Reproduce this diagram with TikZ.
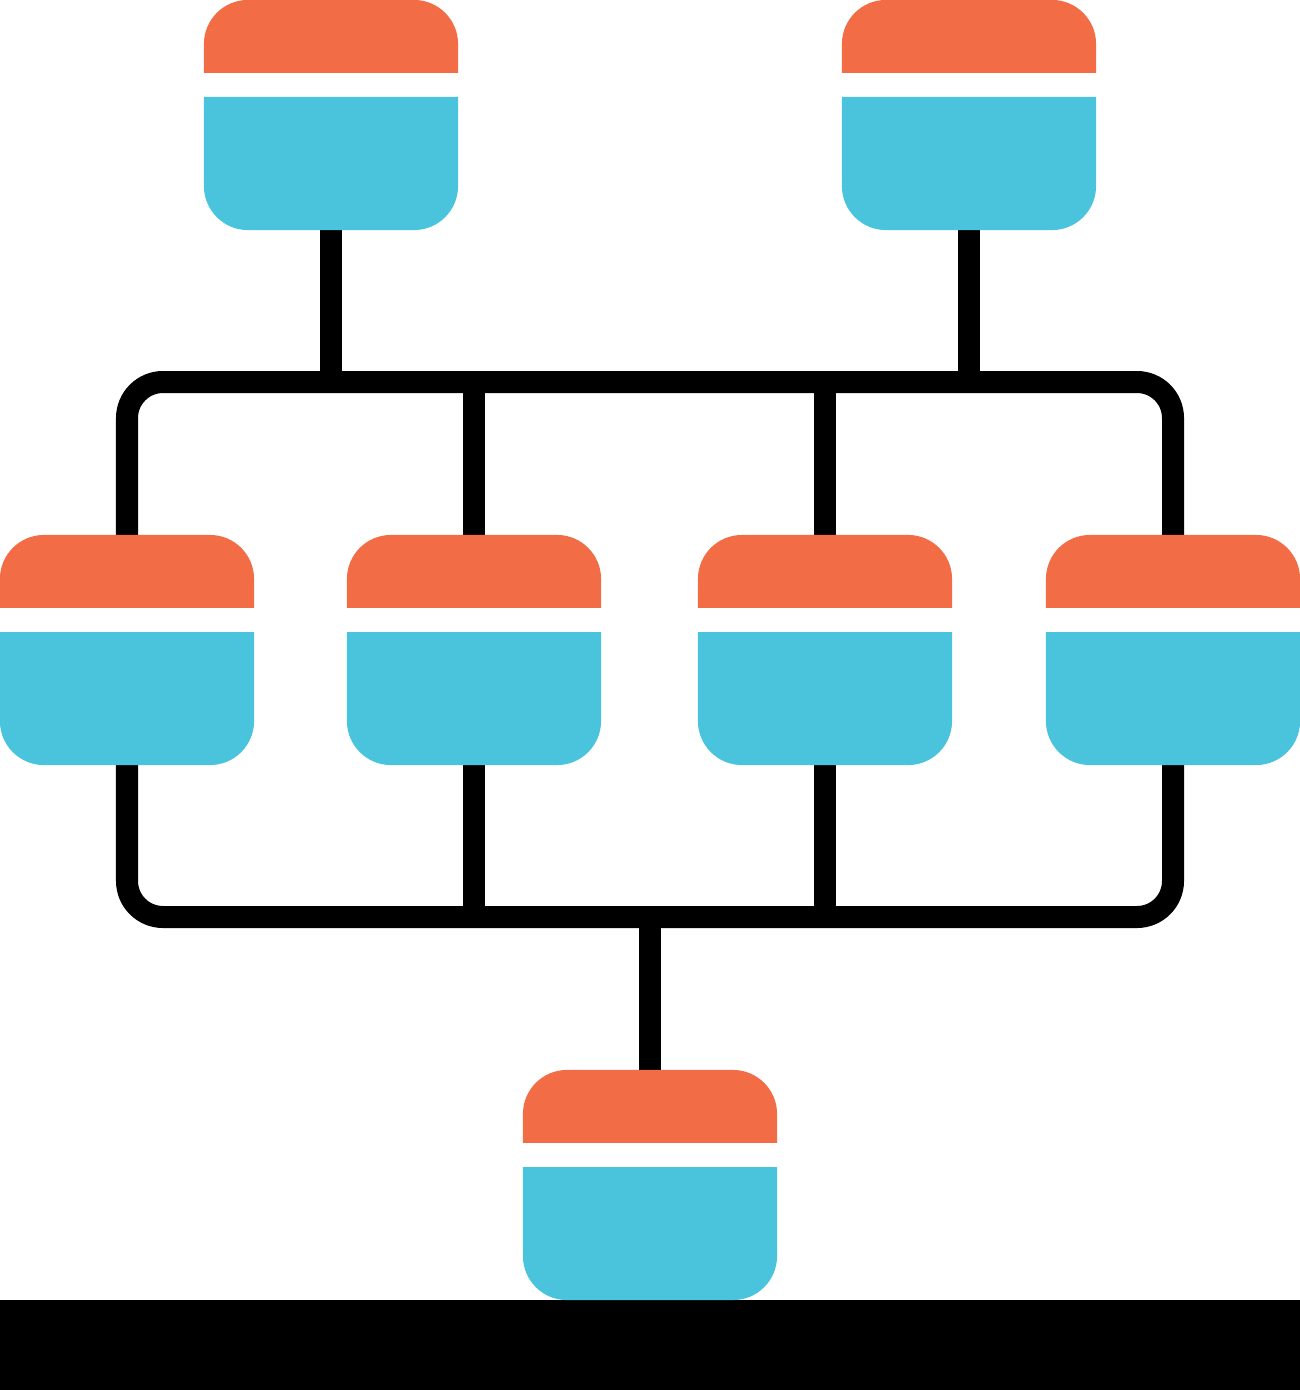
\documentclass[tikz,border=0pt]{standalone}
\usetikzlibrary{calc}
\definecolor{boxorange}{RGB}{242,108,70}
\definecolor{boxblue}{RGB}{74,195,220}
\begin{document}
\begin{tikzpicture}[x=0.01cm,y=-0.01cm,
  slot/.style={rectangle, minimum width=2.54cm, minimum height=2.30cm, inner sep=0pt, outer sep=0pt},
  wire/.style={line width=0.22cm, black, rounded corners=0.36cm},
  lid/.style={fill=boxorange, rounded corners=0.44cm},
  tray/.style={fill=boxblue, rounded corners=0.44cm}]
\useasboundingbox (0,0) rectangle (1300,1390);
\fill[black] (0,1300) rectangle (1300,1390);
% box placeholders
\node[slot] (tl) at (331,115) {};
\node[slot] (tr) at (969,115) {};
\node[slot] (m1) at (127,650) {};
\node[slot] (m2) at (474,650) {};
\node[slot] (m3) at (825,650) {};
\node[slot] (m4) at (1173,650) {};
\node[slot] (bt) at (650,1185) {};
\coordinate (hubtop) at (650,382);
\coordinate (hubbot) at (650,917);
% connectors
\draw[wire] (tl.south) -- (tl.south |- hubtop);
\draw[wire] (tr.south) -- (tr.south |- hubtop);
\draw[wire] (m1.north) -- (m1.north |- hubtop) -- (m4.north |- hubtop) -- (m4.north);
\draw[wire] (m2.north) -- (m2.north |- hubtop);
\draw[wire] (m3.north) -- (m3.north |- hubtop);
\draw[wire] (m1.south) -- (m1.south |- hubbot) -- (m4.south |- hubbot) -- (m4.south);
\draw[wire] (m2.south) -- (m2.south |- hubbot);
\draw[wire] (m3.south) -- (m3.south |- hubbot);
\draw[wire] (hubbot) -- (bt.north);
% boxes
\foreach \n in {tl,tr,m1,m2,m3,m4,bt}{
  \path[lid] ([yshift=-0.73cm]\n.north west) -- (\n.north west) -- (\n.north east) -- ([yshift=-0.73cm]\n.north east);
  \path[tray] ([yshift=-0.97cm]\n.north west) -- (\n.south west) -- (\n.south east) -- ([yshift=-0.97cm]\n.north east);
}
\end{tikzpicture}
\end{document}
